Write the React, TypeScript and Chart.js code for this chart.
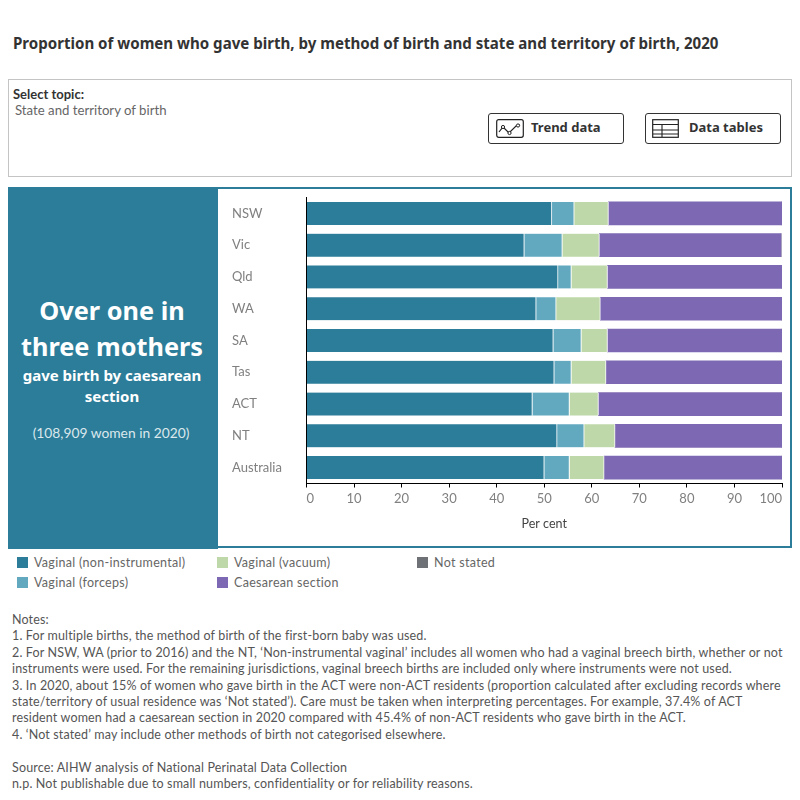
import React, { useEffect, useRef } from "react";
import { Chart, registerables } from "chart.js";

Chart.register(...registerables);

const states = ["NSW", "Vic", "Qld", "WA", "SA", "Tas", "ACT", "NT", "Australia"];
const nonInstrumental = [51.6, 45.8, 52.9, 48.3, 51.9, 52.1, 47.5, 52.7, 50.0];
const forceps = [4.7, 8.0, 2.8, 4.2, 5.9, 3.6, 7.8, 5.7, 5.3];
const vacuum = [7.2, 7.8, 7.6, 9.3, 5.5, 7.3, 6.1, 6.5, 7.3];
const caesarean = [36.5, 38.2, 36.7, 38.2, 36.7, 37.0, 38.6, 35.1, 37.4];
const notStated = [0, 0, 0, 0, 0, 0, 0, 0, 0];
const xTicks = [0, 10, 20, 30, 40, 50, 60, 70, 80, 90, 100];

const TEAL = "#2c7d99";
const FONT = "Lato";
const series = [
  { label: "Vaginal (non-instrumental)", data: nonInstrumental, color: TEAL },
  { label: "Vaginal (forceps)", data: forceps, color: "#62a9c0" },
  { label: "Vaginal (vacuum)", data: vacuum, color: "#bed8a9" },
  { label: "Caesarean section", data: caesarean, color: "#7d69b3" },
  { label: "Not stated", data: notStated, color: "#6e7277" },
];
const legendSpots = [
  [17, 556],
  [17, 576],
  [217, 556],
  [217, 576],
  [417, 556],
];
const notes = [
  "Notes:",
  "1. For multiple births, the method of birth of the first-born baby was used.",
  "2. For NSW, WA (prior to 2016) and the NT, ‘Non-instrumental vaginal’ includes all women who had a vaginal breech birth, whether or not",
  "instruments were used. For the remaining jurisdictions, vaginal breech births are included only where instruments were not used.",
  "3. In 2020, about 15% of women who gave birth in the ACT were non-ACT residents (proportion calculated after excluding records where",
  "state/territory of usual residence was ‘Not stated’). Care must be taken when interpreting percentages. For example, 37.4% of ACT",
  "resident women had a caesarean section in 2020 compared with 45.4% of non-ACT residents who gave birth in the ACT.",
  "4. ‘Not stated’ may include other methods of birth not categorised elsewhere.",
  "",
  "Source: AIHW analysis of National Perinatal Data Collection",
  "n.p. Not publishable due to small numbers, confidentiality or for reliability reasons.",
];

const abs = (left: number, top: number, extra: React.CSSProperties = {}): React.CSSProperties => ({
  position: "absolute",
  left,
  top,
  whiteSpace: "nowrap",
  ...extra,
});

function TrendIcon() {
  return (
    <svg width="28" height="20" viewBox="0 0 28 20" style={abs(7, 5)}>
      <rect x="0.7" y="0.7" width="26.6" height="17.6" rx="2" fill="none" stroke="#222" strokeWidth="1.2" />
      <path d="M3 13 L7 8 L13 14 L20 7 L24 6" fill="none" stroke="#222" strokeWidth="1.2" />
      <circle cx="7" cy="8" r="1.6" fill="#fff" stroke="#222" />
      <circle cx="13.5" cy="14" r="1.6" fill="#fff" stroke="#222" />
      <circle cx="22" cy="6.5" r="1.6" fill="#fff" stroke="#222" />
    </svg>
  );
}

function TableIcon() {
  return (
    <svg width="28" height="20" viewBox="0 0 28 20" style={abs(6, 5)}>
      <rect x="0.7" y="0.7" width="25.6" height="17.6" fill="none" stroke="#222" strokeWidth="1.2" />
      <path d="M1 5.5 H26 M1 11 H26 M1 15 H26 M10 5.5 V18" fill="none" stroke="#222" strokeWidth="1.1" />
    </svg>
  );
}

function Button(props: { left: number; width: number; label: string; labelLeft: number; icon: React.ReactNode }) {
  return (
    <div
      style={abs(props.left, 113, {
        width: props.width,
        height: 31,
        boxSizing: "border-box",
        border: "1.5px solid #333",
        borderRadius: 3,
      })}
    >
      {props.icon}
      <span
        style={abs(props.labelLeft, 4, {
          fontFamily: "'Noto Sans'",
          fontWeight: 700,
          fontSize: 13,
          color: "#333",
        })}
      >
        {props.label}
      </span>
    </div>
  );
}

export default function App() {
  const ref = useRef<HTMLCanvasElement>(null);

  useEffect(() => {
    if (!ref.current) return;
    const chart = new Chart(ref.current, {
      type: "bar",
      data: {
        labels: states,
        datasets: series.map((s, i) => ({
          label: s.label,
          data: s.data,
          backgroundColor: s.color,
          borderColor: "#ffffff",
          borderWidth: i < 3 ? { right: 1 } : 0,
          borderSkipped: false,
          barThickness: 23,
        })),
      },
      options: {
        indexAxis: "y",
        animation: false,
        responsive: false,
        devicePixelRatio: 1,
        layout: { padding: { top: 9.5, right: 6, left: 14, bottom: 0 } },
        plugins: { legend: { display: false }, tooltip: { enabled: false } },
        scales: {
          x: {
            stacked: true,
            min: 0,
            max: 100,
            afterBuildTicks: (s: any) => {
              s.ticks = xTicks.map((value) => ({ value }));
            },
            afterFit: (s: any) => {
              s.height = 62.5;
            },
            grid: { drawOnChartArea: false, drawTicks: true, tickLength: 4, color: "#000", lineWidth: 1 },
            border: { display: true, color: "#000", width: 1 },
            ticks: {
              align: "inner",
              maxRotation: 0,
              autoSkip: false,
              padding: 4,
              color: "#808080",
              font: { family: FONT, size: 13 },
            },
            title: {
              display: true,
              text: "Per cent",
              color: "#444",
              font: { family: FONT, size: 12.5 },
              padding: { top: 8, bottom: 15 },
            },
          },
          y: {
            stacked: true,
            afterFit: (s: any) => {
              s.width = 74.5;
            },
            grid: { drawOnChartArea: false, drawTicks: false },
            border: { display: true, color: "#000", width: 1 },
            ticks: {
              crossAlign: "far",
              padding: 0,
              color: "#808080",
              font: { family: FONT, size: 13 },
            },
          },
        },
      },
    } as any);
    return () => chart.destroy();
  }, []);

  return (
    <div style={{ position: "absolute", left: 0, top: 0, width: 800, height: 800, overflow: "hidden", background: "#fff", fontFamily: FONT }}>
      <div style={abs(13, 33, { fontFamily: "'Noto Sans'", fontWeight: 700, fontSize: 15.08, color: "#333" })}>
        Proportion of women who gave birth, by method of birth and state and territory of birth, 2020
      </div>

      <div style={abs(8, 79, { width: 784, height: 98, boxSizing: "border-box", border: "1px solid #c4c4c4" })} />
      <div style={abs(13, 86, { fontWeight: 700, fontSize: 13, color: "#333" })}>Select topic:</div>
      <div style={abs(15, 102, { fontSize: 13.2, color: "#666" })}>State and territory of birth</div>
      <Button left={488} width={136} label="Trend data" labelLeft={42} icon={<TrendIcon />} />
      <Button left={645} width={136} label="Data tables" labelLeft={43} icon={<TableIcon />} />

      <div style={abs(8, 187, { width: 784, height: 361, boxSizing: "border-box", border: `2px solid ${TEAL}` })} />
      <div style={abs(8, 187, { width: 210, height: 362, background: TEAL, color: "#fff", textAlign: "center", whiteSpace: "normal" })}>
        <div style={abs(-1, 105, { width: 210, fontFamily: "'Noto Sans'", fontWeight: 700, fontSize: 25.3, lineHeight: "36px", whiteSpace: "normal" })}>
          Over one in
          <br />
          three mothers
        </div>
        <div style={abs(-1, 178, { width: 210, fontFamily: "'Noto Sans'", fontWeight: 700, fontSize: 15, lineHeight: "21px", whiteSpace: "normal" })}>
          gave birth by caesarean
          <br />
          section
        </div>
        <div style={abs(-2, 237, { width: 210, fontSize: 13.8, textAlign: "center", color: "#dbe8ed" })}>(108,909 women in 2020)</div>
      </div>

      <canvas ref={ref} width={570} height={358} style={abs(218, 188, { display: "block", width: 570, height: 358 })} />

      {series.map((s, i) => (
        <React.Fragment key={s.label}>
          <div style={abs(legendSpots[i][0], legendSpots[i][1] + 1, { width: 11, height: 11, background: s.color })} />
          <div style={abs(legendSpots[i][0] + 17, legendSpots[i][1] - 1, { fontSize: 12.5, letterSpacing: 0.3, color: "#666" })}>{s.label}</div>
        </React.Fragment>
      ))}

      {notes.map((line, i) => (
        <div key={i} style={abs(12, 612 + i * 16.4, { fontSize: 12.5, letterSpacing: 0.15, color: "#555" })}>
          {line}
        </div>
      ))}
    </div>
  );
}
